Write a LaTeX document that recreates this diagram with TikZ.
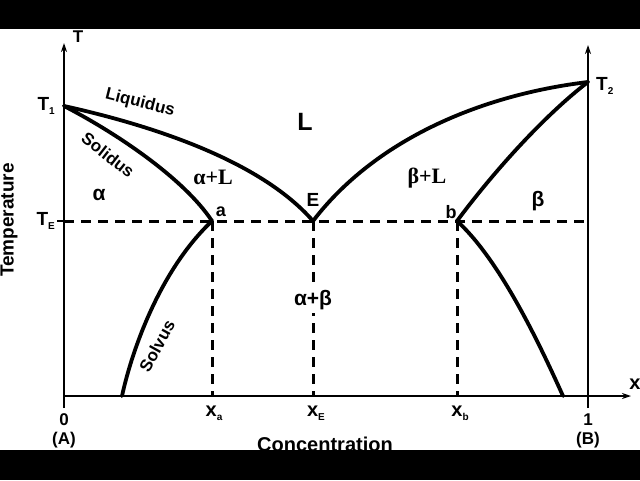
\documentclass[tikz,border=0pt]{standalone}
\usepackage{fontspec}
\setmainfont{Liberation Sans}
\newfontfamily\serifb{Liberation Serif}
\usetikzlibrary{arrows.meta}
\newcommand{\fsz}[1]{\fontsize{#1}{#1}\selectfont}
\newcommand{\subx}[1]{\raisebox{-4pt}{\fsz{10}#1}}
\begin{document}
\begin{tikzpicture}[x=1pt,y=-1pt,
  curve/.style={line width=3.8pt, line cap=round},
  axisline/.style={line width=2.5pt},
  dashline/.style={line width=3pt, dash pattern=on 10pt off 7pt},
  lbl/.style={font=\fsz{19}\bfseries, inner sep=0pt},
  slbl/.style={font=\fsz{22}\bfseries\serifb, inner sep=0pt}]
\useasboundingbox (0,0) rectangle (640,480);
\fill[white] (0,0) rectangle (640,480);
% key points
\coordinate (O) at (64,396);
\coordinate (Abot) at (64,408);
\coordinate (Atop) at (64,43);
\coordinate (Bbot) at (588,408);
\coordinate (Btop) at (588,45);
\coordinate (Xend) at (631,396);
\coordinate (T1) at (64,106);
\coordinate (T2) at (588,82);
\coordinate (TEl) at (64,221);
\coordinate (TEr) at (588,221);
\coordinate (TEt) at (57,221);
\coordinate (a) at (212,221);
\coordinate (E) at (313,221);
\coordinate (b) at (457,221);
\coordinate (xa) at (212,396);
\coordinate (xE) at (313,396);
\coordinate (xb) at (457,396);
\coordinate (sl) at (122,396);
\coordinate (sr) at (563,396);
% dashed lines
\draw[dashline] (TEl) -- (TEr);
\draw[dashline] (a) -- (xa);
\draw[dashline] (E) -- (xE);
\draw[dashline] (b) -- (xb);
% axes
\draw[axisline,-{Stealth[length=9pt,width=6pt]}] (Abot) -- (Atop);
\draw[axisline,-{Stealth[length=9pt,width=6pt]}] (Bbot) -- (Btop);
\draw[axisline,-{Stealth[length=9pt,width=6pt]}] (O) -- (Xend);
\draw[axisline] (TEt) -- (TEl);
% curves
\draw[curve] (T1) .. controls (150,125) and (260,160) .. (E);
\draw[curve] (T1) .. controls (120,135) and (185,180) .. (a);
\draw[curve] (E) .. controls (375,140) and (480,95) .. (T2);
\draw[curve] (b) .. controls (495,170) and (545,115) .. (T2);
\draw[curve] (a) .. controls (160,270) and (132,350) .. (sl);
\draw[curve] (b) .. controls (500,260) and (540,345) .. (sr);
% labels
\node[lbl,font=\fsz{17}\bfseries] (Tlab) at (78,37) {T};
\node[lbl,anchor=east] (T1lab) at (55,106) {T\subx{1}};
\node[lbl,anchor=east] (TElab) at (55,221) {T\subx{E}};
\node[lbl,anchor=west] (T2lab) at (596,86) {T\subx{2}};
\node[lbl,font=\fsz{17}\bfseries,rotate=-14] (liq) at (140,103) {Liquidus};
\node[lbl,font=\fsz{17}\bfseries,rotate=-38] (sol) at (108,155) {Solidus};
\node[lbl,font=\fsz{17}\bfseries,rotate=61] (solv) at (157,346) {Solvus};
\node[lbl,font=\fsz{25}\bfseries] (Lreg) at (305,122) {L};
\node[lbl,font=\fsz{21}\bfseries] (alpha) at (99,195) {α};
\node[slbl] (aL) at (213,177) {α+L};
\node[slbl] (bL) at (427,178) {β+L};
\node[lbl,font=\fsz{21}\bfseries] (beta) at (538,201) {β};
\node[lbl] (Elab) at (313,200) {E};
\node[lbl,font=\fsz{18}\bfseries] (alab) at (221,212) {a};
\node[lbl,font=\fsz{18}\bfseries] (blab) at (451,212) {b};
\node[lbl,font=\fsz{21}\bfseries,fill=white,inner sep=3pt] (ab) at (313,300) {α+β};
\node[lbl,font=\fsz{17}\bfseries] (zero) at (64,420) {0};
\node[lbl,font=\fsz{17}\bfseries] (Alab) at (64,440) {(A)};
\node[lbl,font=\fsz{17}\bfseries] (one) at (588,420) {1};
\node[lbl,font=\fsz{17}\bfseries] (Blab) at (588,440) {(B)};
\node[lbl,font=\fsz{20}\bfseries] (xalab) at (214,413) {x\subx{a}};
\node[lbl,font=\fsz{20}\bfseries] (xElab) at (316,413) {x\subx{E}};
\node[lbl,font=\fsz{20}\bfseries] (xblab) at (460,413) {x\subx{b}};
\node[lbl,font=\fsz{20}\bfseries] (xaxis) at (635,384) {x};
\node[lbl,font=\fsz{20}\bfseries,anchor=base] (conc) at (325,451) {Concentration};
\node[lbl,font=\fsz{19}\bfseries,rotate=90] (temp) at (9,220) {Temperature};
% black bars
\fill[black] (0,0) rectangle (640,29);
\fill[black] (0,450) rectangle (640,480);
\end{tikzpicture}
\end{document}
